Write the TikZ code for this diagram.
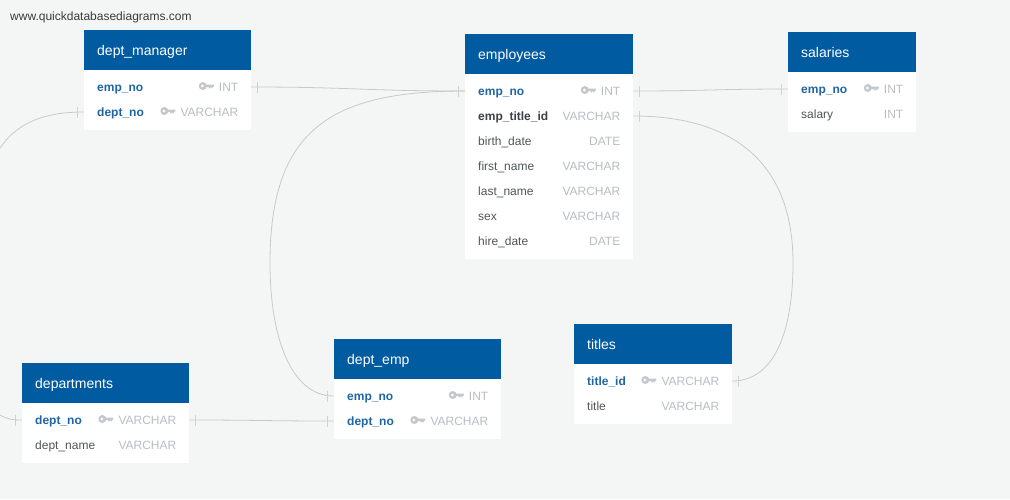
\documentclass[tikz,border=0pt]{standalone}
\usepackage{fontspec}
\setmainfont{Liberation Sans}
\definecolor{bgc}{HTML}{F4F6F6}
\definecolor{headc}{HTML}{005BA1}
\definecolor{pkc}{HTML}{1F65A5}
\definecolor{fldc}{HTML}{50555B}
\definecolor{fkc}{HTML}{3C4147}
\definecolor{sitec}{HTML}{3A3A3A}
\definecolor{typec}{HTML}{B9BDC3}
\definecolor{keyc}{HTML}{C4C8CC}
\definecolor{linec}{HTML}{C6CACA}
\definecolor{tickc}{HTML}{CFD2D2}
\tikzset{
  bodybox/.style={fill=white,draw=none,inner sep=0pt,anchor=north west},
  headbox/.style={fill=headc,draw=none,inner sep=0pt,anchor=north west},
  headtxt/.style={text=white,font=\fontsize{14}{16}\selectfont,inner sep=0pt,anchor=base west},
  rowbox/.style={draw=none,inner sep=0pt,anchor=center},
  fldtxt/.style={font=\fontsize{12}{14}\selectfont,inner sep=0pt,anchor=base west},
  keytxt/.style={font=\fontsize{12}{14}\selectfont\bfseries,inner sep=0pt,anchor=base west},
  typetxt/.style={text=typec,font=\fontsize{12}{14}\selectfont,inner sep=0pt,anchor=base east},
  rel/.style={draw=linec,line width=0.8pt},
  tickmark/.style={draw=tickc,line width=1pt}
}
% id, x1, y1, x2, y2, title
\newcommand{\erbox}[6]{%
  \node[bodybox,minimum width=#4pt-#2pt,minimum height=#5pt-#3pt] (#1) at (#2,#3) {};
  \node[headbox,minimum width=#4pt-#2pt,minimum height=40pt] (#1-head) at (#2,#3) {};
  \node[headtxt] (#1-title) at (#2+13,#3+25) {#6};
}
% id, x1, x2, y, style, colour, name, type
\newcommand{\errow}[8]{%
  \node[rowbox,minimum width=#3pt-#2pt,minimum height=25pt] (#1) at ({(#2+#3)/2},#4) {};
  \node[#5,text=#6] (#1-n) at (#2+13,#4+4.5) {#7};
  \node[typetxt] (#1-t) at (#3-12.5,#4+4.5) {#8};
}
% key icon left of type label of row id
\newcommand{\erkey}[1]{%
  \begin{scope}[shift={(#1-t.base west)}]
    \fill[keyc,even odd rule] (-16,-5.5) circle (4) (-16.4,-5.5) circle (1.7);
    \fill[keyc] (-13,-7) -- (-5,-7) -- (-5,-4.8) -- (-6,-4.8) -- (-6.8,-2.8) -- (-8,-4.4) -- (-9.2,-2.8) -- (-10.2,-4.3) -- (-13,-4.3) -- cycle;
  \end{scope}
}
\newcommand{\ertickR}[1]{\draw[tickmark] ([xshift=6pt,yshift=-5.5pt]#1.east) -- ([xshift=6pt,yshift=5.5pt]#1.east);}
\newcommand{\ertickL}[1]{\draw[tickmark] ([xshift=-6pt,yshift=-5.5pt]#1.west) -- ([xshift=-6pt,yshift=5.5pt]#1.west);}
\begin{document}
\begin{tikzpicture}[x=1pt,y=-1pt]
\useasboundingbox (0,0) rectangle (1010,499);
\fill[bgc] (0,0) rectangle (1010,499);
\node[inner sep=0pt,anchor=base west,text=sitec,font=\fontsize{12}{14}\selectfont] (site) at (10,20) {www.quickdatabasediagrams.com};

\erbox{dm}{84}{30}{251}{130}{dept\_manager}
\errow{dm-emp}{84}{251}{87}{keytxt}{pkc}{emp\_no}{INT}
\errow{dm-dep}{84}{251}{112}{keytxt}{pkc}{dept\_no}{VARCHAR}
\erkey{dm-emp}\erkey{dm-dep}

\erbox{em}{465}{34}{633}{259}{employees}
\errow{em-emp}{465}{633}{91}{keytxt}{pkc}{emp\_no}{INT}
\errow{em-tit}{465}{633}{116}{keytxt}{fkc}{emp\_title\_id}{VARCHAR}
\errow{em-bir}{465}{633}{141}{fldtxt}{fldc}{birth\_date}{DATE}
\errow{em-fir}{465}{633}{166}{fldtxt}{fldc}{first\_name}{VARCHAR}
\errow{em-las}{465}{633}{191}{fldtxt}{fldc}{last\_name}{VARCHAR}
\errow{em-sex}{465}{633}{216}{fldtxt}{fldc}{sex}{VARCHAR}
\errow{em-hir}{465}{633}{241}{fldtxt}{fldc}{hire\_date}{DATE}
\erkey{em-emp}

\erbox{sa}{788}{32}{916}{132}{salaries}
\errow{sa-emp}{788}{916}{89}{keytxt}{pkc}{emp\_no}{INT}
\errow{sa-sal}{788}{916}{114}{fldtxt}{fldc}{salary}{INT}
\erkey{sa-emp}

\erbox{de}{334}{339}{501}{439}{dept\_emp}
\errow{de-emp}{334}{501}{396}{keytxt}{pkc}{emp\_no}{INT}
\errow{de-dep}{334}{501}{421}{keytxt}{pkc}{dept\_no}{VARCHAR}
\erkey{de-emp}\erkey{de-dep}

\erbox{ti}{574}{324}{732}{424}{titles}
\errow{ti-id}{574}{732}{381}{keytxt}{pkc}{title\_id}{VARCHAR}
\errow{ti-ti}{574}{732}{406}{fldtxt}{fldc}{title}{VARCHAR}
\erkey{ti-id}

\erbox{dp}{22}{363}{189}{463}{departments}
\errow{dp-no}{22}{189}{420}{keytxt}{pkc}{dept\_no}{VARCHAR}
\errow{dp-na}{22}{189}{445}{fldtxt}{fldc}{dept\_name}{VARCHAR}
\erkey{dp-no}

\begin{scope}
\clip (0,0) rectangle (1010,499);
\draw[rel] (dm-emp.east) .. controls +(100,0) and +(-100,0) .. (em-emp.west);
\draw[rel] (em-emp.east) .. controls +(70,0) and +(-70,0) .. (sa-emp.west);
\draw[rel] (dp-no.east) .. controls +(70,0) and +(-70,0) .. (de-dep.west);
\draw[rel] (em-emp.west) .. controls (330,91) and (270,130) .. (270,263) .. controls (270,335) and (290,396) .. (de-emp.west);
\draw[rel] (em-tit.east) .. controls (730,116) and (793,160) .. (793,263) .. controls (793,330) and (775,381) .. (ti-id.east);
\draw[rel] (dm-dep.west) .. controls +(-48,0) and (14,128) .. (0,148) .. controls (-30,190) and (-40,395) .. (0,415) .. controls (7,419) and (12,420) .. (dp-no.west);
\end{scope}
\ertickR{dm-emp}\ertickL{dm-dep}
\ertickL{em-emp}\ertickR{em-emp}\ertickR{em-tit}
\ertickL{sa-emp}
\ertickL{de-emp}\ertickL{de-dep}
\ertickR{ti-id}
\ertickL{dp-no}\ertickR{dp-no}
\end{tikzpicture}
\end{document}
